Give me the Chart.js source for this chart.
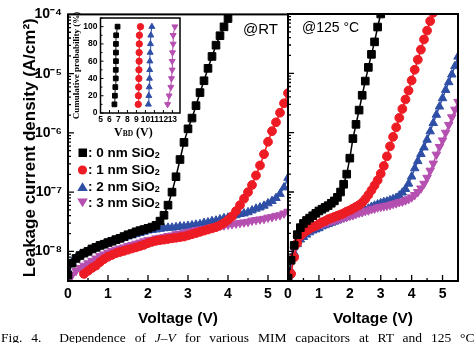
<!DOCTYPE html>
<html><head><meta charset="utf-8">
<script src="https://cdn.jsdelivr.net/npm/chart.js@4.4.0/dist/chart.umd.min.js"></script>
<style>
html,body{margin:0;padding:0;background:#fff;}
body{width:474px;height:343px;overflow:hidden;position:relative;font-family:"Liberation Sans",Arial,sans-serif;}
canvas{position:absolute;left:0;top:0;}
.t{position:absolute;white-space:nowrap;color:#000;line-height:1;}
.leg{font-weight:bold;font-size:13.5px;left:88px;}
.leg sub{font-size:9px;vertical-align:-1px;}
#cap{position:absolute;left:1px;top:331px;font-family:"Liberation Serif","Times New Roman",serif;font-size:13.5px;line-height:14px;white-space:nowrap;word-spacing:5.5px;}
</style></head><body>
<canvas id="cRT" width="474" height="343"></canvas>
<canvas id="cHT" width="474" height="343"></canvas>
<canvas id="cIn" width="474" height="343"></canvas>
<svg style="position:absolute;left:0;top:0" width="474" height="343">
  <rect x="78.5" y="148.5" width="8.5" height="8.5" fill="#000"/>
  <circle cx="82.5" cy="170" r="4.6" fill="#ed1c24"/>
  <polygon points="82.5,182.3 87.8,191 77.2,191" fill="#2f4fa6"/>
  <polygon points="77.2,198.5 87.8,198.5 82.5,207.2" fill="#b54fb0"/>
</svg>
<div class="t leg" style="top:146px">: 0 nm SiO<sub>2</sub></div>
<div class="t leg" style="top:163px">: 1 nm SiO<sub>2</sub></div>
<div class="t leg" style="top:180px">: 2 nm SiO<sub>2</sub></div>
<div class="t leg" style="top:196px">: 3 nm SiO<sub>2</sub></div>
<div class="t" style="left:243px;top:21px;font-size:15px;">@RT</div>
<div class="t" style="left:302px;top:20px;font-size:14px;">@125 °C</div>
<div class="t" style="left:114px;top:126px;font-family:'Liberation Serif',serif;font-weight:bold;font-size:12px;">V<span style="font-size:7.5px;">BD</span> (V)</div>
<div id="cap">Fig. 4.&nbsp; Dependence of <i>J</i>–<i>V</i> for various MIM capacitors at RT and 125 °C</div>
<script>
// ---- data ----
const voltage = [0,0.1,0.2,0.3,0.4,0.5,0.6,0.7,0.8,0.9,1.0,1.1,1.2,1.3,1.4,1.5,1.6,1.7,1.8,1.9,2.0,2.1,2.2,2.3,2.4,2.5,2.6,2.7,2.8,2.9,3.0,3.1,3.2,3.3,3.4,3.5,3.6,3.7,3.8,3.9,4.0,4.1,4.2,4.3,4.4,4.5,4.6,4.7,4.8,4.9,5.0,5.1,5.2,5.3,5.4,5.5];
const seriesNames = ['0 nm SiO2','1 nm SiO2','2 nm SiO2','3 nm SiO2'];
// Room temperature (A/cm^2)
const rt0nm = [3.98e-9,6.31e-9,7.59e-9,8.51e-9,9.33e-9,1.00e-8,1.10e-8,1.17e-8,1.26e-8,1.32e-8,1.41e-8,1.48e-8,1.58e-8,1.66e-8,1.78e-8,1.91e-8,2.00e-8,2.14e-8,2.24e-8,2.34e-8,2.45e-8,2.57e-8,2.75e-8,3.24e-8,4.07e-8,6.03e-8,1.00e-7,1.82e-7,3.55e-7,6.92e-7,1.17e-6,1.78e-6,2.88e-6,4.79e-6,7.59e-6,1.23e-5,1.95e-5,3.02e-5,4.37e-5,6.17e-5,8.51e-5];
const rt1nm = [null,null,null,null,4.17e-9,4.68e-9,5.25e-9,5.75e-9,6.61e-9,7.41e-9,8.13e-9,8.71e-9,9.33e-9,9.77e-9,1.02e-8,1.07e-8,1.12e-8,1.17e-8,1.23e-8,1.29e-8,1.38e-8,1.45e-8,1.51e-8,1.55e-8,1.58e-8,1.62e-8,1.66e-8,1.70e-8,1.74e-8,1.78e-8,1.86e-8,1.95e-8,2.04e-8,2.14e-8,2.24e-8,2.34e-8,2.45e-8,2.57e-8,2.75e-8,3.02e-8,3.39e-8,3.89e-8,4.79e-8,6.03e-8,7.76e-8,1.00e-7,1.32e-7,1.91e-7,2.82e-7,4.37e-7,7.08e-7,1.07e-6,1.51e-6,2.19e-6,3.16e-6,4.68e-6];
const rt2nm = [4.79e-9,6.61e-9,7.76e-9,8.71e-9,9.33e-9,1.00e-8,1.07e-8,1.15e-8,1.23e-8,1.32e-8,1.41e-8,1.48e-8,1.55e-8,1.62e-8,1.70e-8,1.78e-8,1.86e-8,1.95e-8,2.04e-8,2.14e-8,2.24e-8,2.29e-8,2.34e-8,2.40e-8,2.45e-8,2.51e-8,2.51e-8,2.57e-8,2.63e-8,2.63e-8,2.69e-8,2.75e-8,2.82e-8,2.88e-8,3.02e-8,3.09e-8,3.24e-8,3.31e-8,3.47e-8,3.63e-8,3.72e-8,3.89e-8,4.07e-8,4.27e-8,4.37e-8,4.57e-8,4.90e-8,5.25e-8,5.50e-8,5.89e-8,6.46e-8,7.08e-8,7.94e-8,9.33e-8,1.20e-7,1.74e-7];
const rt3nm = [3.47e-9,3.98e-9,4.68e-9,5.25e-9,5.75e-9,6.31e-9,6.92e-9,7.59e-9,8.32e-9,8.91e-9,9.55e-9,1.02e-8,1.07e-8,1.12e-8,1.17e-8,1.23e-8,1.29e-8,1.35e-8,1.41e-8,1.48e-8,1.55e-8,1.58e-8,1.66e-8,1.70e-8,1.74e-8,1.82e-8,1.86e-8,1.95e-8,2.00e-8,2.04e-8,2.14e-8,2.19e-8,2.29e-8,2.34e-8,2.40e-8,2.45e-8,2.57e-8,2.63e-8,2.69e-8,2.75e-8,2.82e-8,2.88e-8,2.95e-8,3.02e-8,3.09e-8,3.16e-8,3.31e-8,3.39e-8,3.47e-8,3.55e-8,3.72e-8,3.80e-8,3.98e-8,4.07e-8,4.37e-8,4.68e-8];
// 125 C (A/cm^2)
const ht0nm = [3.55e-9,7.08e-9,1.26e-8,1.91e-8,2.51e-8,2.95e-8,3.31e-8,3.63e-8,3.98e-8,4.37e-8,4.79e-8,5.13e-8,5.50e-8,5.89e-8,6.46e-8,7.08e-8,8.13e-8,1.00e-7,1.35e-7,2.00e-7,3.72e-7,7.94e-7,1.38e-6,2.40e-6,4.27e-6,7.41e-6,1.26e-5,2.09e-5,3.39e-5,6.03e-5,1.00e-4];
const ht1nm = [2.82e-9,4.17e-9,7.94e-9,1.38e-8,1.82e-8,2.04e-8,2.24e-8,2.40e-8,2.57e-8,2.69e-8,2.88e-8,3.09e-8,3.24e-8,3.47e-8,3.63e-8,3.80e-8,3.98e-8,4.17e-8,4.37e-8,4.68e-8,4.90e-8,5.25e-8,5.62e-8,6.03e-8,6.61e-8,7.59e-8,8.91e-8,1.07e-7,1.29e-7,1.58e-7,2.04e-7,2.75e-7,3.98e-7,5.89e-7,8.51e-7,1.23e-6,1.78e-6,2.51e-6,3.63e-6,5.13e-6,7.59e-6,1.15e-5,1.70e-5,2.51e-5,3.72e-5,5.25e-5,7.59e-5,1.05e-4];
const ht2nm = [3.16e-9,4.68e-9,9.33e-9,1.32e-8,1.58e-8,1.74e-8,1.91e-8,2.09e-8,2.24e-8,2.34e-8,2.45e-8,2.63e-8,2.75e-8,2.88e-8,3.02e-8,3.16e-8,3.31e-8,3.47e-8,3.63e-8,3.80e-8,3.98e-8,4.17e-8,4.37e-8,4.57e-8,4.79e-8,5.01e-8,5.25e-8,5.62e-8,5.89e-8,6.17e-8,6.46e-8,6.76e-8,6.92e-8,7.24e-8,7.59e-8,7.94e-8,8.71e-8,9.77e-8,1.12e-7,1.38e-7,1.82e-7,2.51e-7,3.31e-7,4.37e-7,5.62e-7,7.59e-7,1.05e-6,1.45e-6,2.00e-6,2.75e-6,3.80e-6,5.25e-6,7.08e-6,9.55e-6,1.32e-5,1.91e-5];
const ht3nm = [3.02e-9,3.98e-9,1.05e-8,1.62e-8,1.95e-8,2.14e-8,2.29e-8,2.45e-8,2.57e-8,2.69e-8,2.82e-8,2.88e-8,3.02e-8,3.09e-8,3.24e-8,3.31e-8,3.47e-8,3.55e-8,3.72e-8,3.80e-8,3.98e-8,4.07e-8,4.27e-8,4.47e-8,4.57e-8,4.79e-8,4.90e-8,5.13e-8,5.25e-8,5.50e-8,5.62e-8,5.75e-8,5.89e-8,6.03e-8,6.31e-8,6.46e-8,6.76e-8,6.92e-8,7.24e-8,7.59e-8,8.13e-8,8.91e-8,1.00e-7,1.15e-7,1.38e-7,1.74e-7,2.29e-7,3.02e-7,4.27e-7,5.75e-7,7.41e-7,1.00e-6,1.35e-6,1.82e-6,2.45e-6,3.31e-6];
// Inset: breakdown voltage distribution
const probability = [10,20,30,40,50,60,70,80,90,100];
const vbd0nm = [6.55,6.60,6.65,6.70,6.70,6.72,6.72,6.72,6.74,6.90];
const vbd1nm = [9.20,9.22,9.25,9.27,9.28,9.30,9.30,9.32,9.33,9.45];
const vbd2nm = [10.33,10.38,10.42,10.45,10.48,10.50,10.53,10.56,10.60,10.72];
const vbd3nm = [12.47,12.64,12.83,12.90,12.98,12.98,13.02,13.09,13.09,13.28];
const yTickValues = [1e-8,1e-7,1e-6,1e-5,1e-4];
const xTickValues = [0,1,2,3,4,5];
const insetXTicks = [5,6,7,8,9,10,11,12,13];
const insetYTicks = [0,20,40,60,80,100];

// ---- styling ----
const SANS = '"Liberation Sans", Arial, sans-serif';
const SERIF = '"Liberation Serif", "Times New Roman", serif';
const COLORS = ['#000000','#ed1c24','#2f4fa6','#b54fb0'];
const STYLES = [['rect',0],['circle',0],['triangle',0],['triangle',180]];
const RADII = [5.4,4.4,4.9,4.9];
const ORDER = [0,1,3,2];
Chart.defaults.font.family = SANS;
Chart.defaults.color = '#000';

const SUP = {'-':'\u207B','0':'\u2070','1':'\u00B9','2':'\u00B2','3':'\u00B3','4':'\u2074','5':'\u2075','6':'\u2076','7':'\u2077','8':'\u2078','9':'\u2079'};
const sup = s => s.split('').map(c => SUP[c]).join('');

function pts(xs, ys){ return ys.map((y,i) => y == null ? null : {x: xs[i], y}).filter(p => p); }
function dataset(i, xs, ys, scale){
  return {label: seriesNames[i], data: pts(xs, ys), borderColor: COLORS[i], backgroundColor: COLORS[i],
    pointBackgroundColor: COLORS[i], pointBorderColor: COLORS[i], pointStyle: STYLES[i][0], pointRotation: STYLES[i][1],
    pointRadius: RADII[i]*scale, pointBorderWidth: 1, borderWidth: 1.5*scale, showLine: true, tension: 0, order: ORDER[i]};
}

function framePlugin(opts){
  return {id: 'frame', afterDatasetsDraw(chart){
    const {ctx, chartArea: a} = chart; const x = chart.scales.x, y = chart.scales.y;
    ctx.save(); ctx.strokeStyle = '#000';
    ctx.lineWidth = opts.lw; ctx.strokeRect(a.left, a.top, a.right - a.left, a.bottom - a.top);
    ctx.lineWidth = opts.tw; ctx.beginPath();
    opts.yTicks.forEach(([v, L]) => { const py = y.getPixelForValue(v); ctx.moveTo(a.left, py); ctx.lineTo(a.left + L, py); });
    opts.xTicks.forEach(([v, L]) => { const px = x.getPixelForValue(v); ctx.moveTo(px, a.bottom); ctx.lineTo(px, a.bottom - L); });
    ctx.stroke(); ctx.restore();
  }};
}
const logTicks = [];
for (let e = -9; e <= -4; e++) for (let m = 1; m <= 9; m++) { const v = m * Math.pow(10, e); if (v >= 3.1623e-9 && v <= 1.0001e-4) logTicks.push([v, m === 1 ? 6 : 3]); }
const vTicks = []; for (let k = 0; k <= 11; k++) vTicks.push([k * 0.5, k % 2 === 0 ? 6 : 3]);

function xScale(){
  return {type: 'linear', min: 0, max: 5.5,
    afterBuildTicks: s => { s.ticks = xTickValues.map(v => ({value: v})); },
    afterFit: s => { s.height = 62; },
    grid: {display: false, drawTicks: false}, border: {display: false},
    ticks: {color: '#000', font: {size: 14, weight: 'bold'}, padding: 5, maxRotation: 0, autoSkip: false},
    title: {display: true, text: 'Voltage (V)', color: '#000', font: {size: 15.5, weight: 'bold'}, padding: {top: 0, bottom: 15}}};
}
function yScale(show){
  return {type: 'logarithmic', min: 3.1623e-9, max: 1e-4, display: show,
    afterBuildTicks: s => { s.ticks = yTickValues.map(v => ({value: v})); },
    afterFit: s => { s.width = show ? 68 : 0; },
    grid: {display: false, drawTicks: false}, border: {display: false},
    ticks: {color: '#000', font: {size: 14, weight: 'bold'}, padding: 6, autoSkip: false,
      callback: v => '10' + sup(String(Math.round(Math.log10(v))))},
    title: {display: true, text: 'Leakage current density (A/cm\u00B2)', color: '#000', font: {size: 17, weight: 'bold'}, padding: {top: 20, bottom: 0}}};
}
const common = {responsive: false, animation: false, devicePixelRatio: 1,
  plugins: {legend: {display: false}, tooltip: {enabled: false}}};

new Chart(document.getElementById('cRT'), {type: 'scatter',
  data: {datasets: [dataset(0, voltage, rt0nm, 1), dataset(1, voltage, rt1nm, 1), dataset(2, voltage, rt2nm, 1), dataset(3, voltage, rt3nm, 1)]},
  options: Object.assign({}, common, {layout: {padding: {left: 0, right: 186, top: 14, bottom: 0}},
    scales: {x: xScale(), y: yScale(true)}}),
  plugins: [framePlugin({lw: 2, tw: 1.3, yTicks: logTicks, xTicks: vTicks})]});

new Chart(document.getElementById('cHT'), {type: 'scatter',
  data: {datasets: [dataset(0, voltage, ht0nm, 1), dataset(1, voltage, ht1nm, 1), dataset(2, voltage, ht2nm, 1), dataset(3, voltage, ht3nm, 1)]},
  options: Object.assign({}, common, {layout: {padding: {left: 288, right: 16, top: 14, bottom: 0}},
    scales: {x: xScale(), y: yScale(false)}}),
  plugins: [framePlugin({lw: 2, tw: 1.3, yTicks: logTicks, xTicks: vTicks})]});

const inYT = []; for (let p = 0; p <= 110; p += 10) inYT.push([p, p % 20 === 0 ? 3 : 2]);
const inXT = insetXTicks.map(v => [v, 3]);
new Chart(document.getElementById('cIn'), {type: 'scatter',
  data: {datasets: [
    dataset(0, vbd0nm, probability, 0.62), dataset(1, vbd1nm, probability, 0.72),
    dataset(2, vbd2nm, probability, 0.7), dataset(3, vbd3nm, probability, 0.7)]},
  options: Object.assign({}, common, {layout: {padding: {left: 70, right: 294, top: 18, bottom: 218}},
    scales: {
      x: {type: 'linear', min: 5, max: 13.85,
        afterBuildTicks: s => { s.ticks = insetXTicks.map(v => ({value: v})); },
        afterFit: s => { s.height = 12; },
        grid: {display: false, drawTicks: false}, border: {display: false},
        ticks: {color: '#000', font: {size: 8.5, weight: 'bold'}, padding: 2, maxRotation: 0, autoSkip: false}},
      y: {type: 'linear', min: 0, max: 110,
        afterBuildTicks: s => { s.ticks = insetYTicks.map(v => ({value: v})); },
        afterFit: s => { s.width = 30.5; },
        grid: {display: false, drawTicks: false}, border: {display: false},
        ticks: {color: '#000', font: {size: 8.5, weight: 'bold'}, padding: 3, autoSkip: false},
        title: {display: true, text: 'Cumulative probability (%)', color: '#000', font: {family: SERIF, size: 9, weight: 'bold'}, padding: {top: 1, bottom: 0}}}
    }}),
  plugins: [framePlugin({lw: 1.5, tw: 1, yTicks: inYT, xTicks: inXT})]});
</script>
</body></html>
